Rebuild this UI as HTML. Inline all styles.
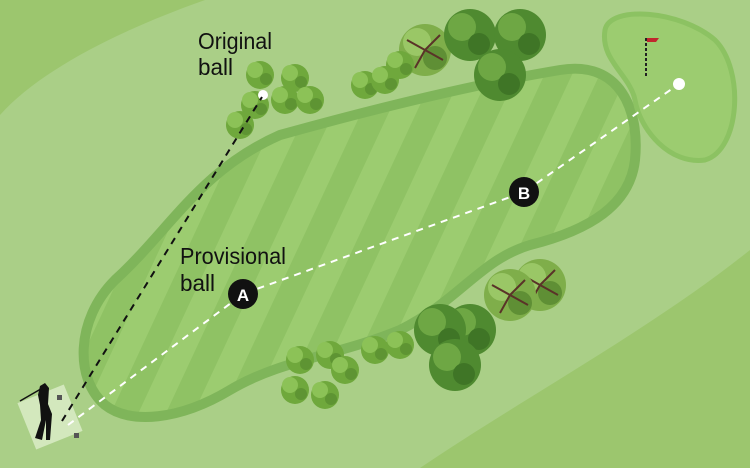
<!DOCTYPE html>
<html><head><meta charset="utf-8"><style>
html,body{margin:0;padding:0;background:#aacf87;}
svg{display:block}
text{font-family:"Liberation Sans",sans-serif;}
</style></head><body>
<svg width="750" height="468" viewBox="0 0 750 468" xmlns="http://www.w3.org/2000/svg">
<defs>
<pattern id="st" patternUnits="userSpaceOnUse" width="50" height="50" patternTransform="rotate(25)">
<rect width="50" height="50" fill="#8fc264"/><rect width="25" height="50" fill="#9ccc70"/>
</pattern>
<g id="bush"><circle r="14" fill="#6fa83c"/><circle cx="-5" cy="-5" r="8" fill="#8cc257"/><circle cx="6" cy="4" r="6" fill="#5e9433"/></g>
<g id="tree"><circle r="26" fill="#7fae4a"/><circle cx="-8" cy="-8" r="14" fill="#9ac766"/><circle cx="10" cy="8" r="12" fill="#5f8f35"/><path d="M0 0 L-18 -10 M0 0 L15 -15 M0 0 L18 10 M0 0 L-10 18" stroke="#5a3328" stroke-width="2"/></g>
<g id="dtree"><circle r="26" fill="#4f8a30"/><circle cx="-8" cy="-8" r="14" fill="#6ea744"/><circle cx="9" cy="9" r="11" fill="#3f7526"/></g>
</defs>
<rect width="750" height="468" fill="#aacf87"/>
<path d="M0 0 H205 C120 30 40 70 0 115 Z" fill="#9cc66e"/>
<path d="M750 250 C650 330 520 400 420 468 H750 Z" fill="#9cc66e"/>
<!-- fairway -->
<path d="M105 405 C75 380 75 320 115 280 C170 230 200 170 280 135 C370 110 470 85 560 70 C620 60 640 110 635 160 C630 205 590 230 530 245 C480 260 460 300 400 330 C340 355 280 360 230 390 C180 420 130 425 105 405 Z" fill="url(#st)" stroke="#7fb55a" stroke-width="10"/>
<!-- putting green -->
<path d="M605 30 C610 5 680 10 715 40 C745 70 740 150 705 160 C670 165 640 130 635 100 C630 75 600 60 605 30 Z" fill="#9ccc70" stroke="#8cc262" stroke-width="5"/>
<line x1="646" y1="38" x2="646" y2="78" stroke="#222" stroke-width="2" stroke-dasharray="3,2"/>
<path d="M647 38 H659 L656 42 H647 Z" fill="#c0272d"/>
<circle cx="679" cy="84" r="6" fill="#fff"/>
<!-- trees top -->
<use href="#bush" x="260" y="75"/><use href="#bush" x="295" y="78"/><use href="#bush" x="285" y="100"/>
<use href="#bush" x="255" y="105"/><use href="#bush" x="240" y="125"/><use href="#bush" x="310" y="100"/>
<use href="#bush" x="365" y="85"/><use href="#bush" x="385" y="80"/>
<use href="#tree" x="425" y="50"/><use href="#dtree" x="470" y="35"/><use href="#dtree" x="520" y="35"/>
<use href="#dtree" x="500" y="75"/><use href="#bush" x="400" y="65"/>
<!-- trees bottom -->
<use href="#tree" x="540" y="285"/><use href="#tree" x="510" y="295"/>
<use href="#dtree" x="470" y="330"/><use href="#dtree" x="440" y="330"/><use href="#dtree" x="455" y="365"/>
<use href="#bush" x="400" y="345"/><use href="#bush" x="375" y="350"/>
<use href="#bush" x="300" y="360"/><use href="#bush" x="330" y="355"/><use href="#bush" x="295" y="390"/>
<use href="#bush" x="325" y="395"/><use href="#bush" x="345" y="370"/>
<circle cx="263" cy="95" r="5" fill="#fff"/>
<!-- tee -->
<rect x="25" y="392" width="50" height="50" fill="#d3e8bd" transform="rotate(-22 50 417)"/>
<rect x="57" y="395" width="5" height="5" fill="#555"/><rect x="74" y="433" width="5" height="5" fill="#555"/>
<path d="M40 386 L45 383 L49 388 L48 404 L52 414 L50 440 L46 440 L46 420 L42 440 L35 438 L41 420 L40 405 L38 395 Z" fill="#111"/>
<line x1="20" y1="401" x2="46" y2="386" stroke="#111" stroke-width="1.5"/>
<!-- lines -->
<line x1="62" y1="421" x2="262" y2="97" stroke="#111" stroke-width="2" stroke-dasharray="7,6"/>
<polyline points="68,425 243,294 524,192 679,84" fill="none" stroke="#fff" stroke-width="2" stroke-dasharray="7,6"/>
<circle cx="243" cy="294" r="15" fill="#111"/>
<text x="243" y="301" fill="#fff" font-size="17" font-weight="bold" text-anchor="middle">A</text>
<circle cx="524" cy="192" r="15" fill="#111"/>
<text x="524" y="199" fill="#fff" font-size="17" font-weight="bold" text-anchor="middle">B</text>
<text font-size="23" fill="#111" x="198" y="49" textLength="74" lengthAdjust="spacingAndGlyphs">Original</text>
<text font-size="23" fill="#111" x="198" y="75" textLength="35" lengthAdjust="spacingAndGlyphs">ball</text>
<text font-size="23" fill="#111" x="180" y="264" textLength="106" lengthAdjust="spacingAndGlyphs">Provisional</text>
<text font-size="23" fill="#111" x="180" y="291" textLength="35" lengthAdjust="spacingAndGlyphs">ball</text>
</svg>
</body></html>
